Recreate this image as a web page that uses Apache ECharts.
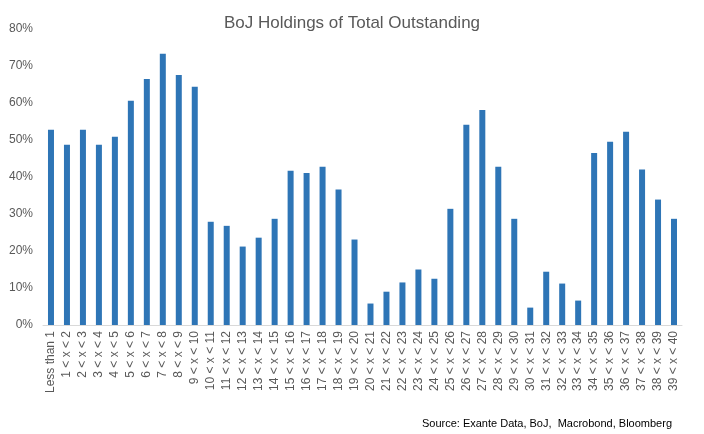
<!DOCTYPE html>
<html>
<head>
<meta charset="utf-8">
<script src="https://cdn.jsdelivr.net/npm/echarts@6/dist/echarts.min.js"></script>
<style>
  html, body { margin: 0; padding: 0; background: #fff; }
  #chart { width: 704px; height: 434px; }
</style>
</head>
<body>
<div id="chart"></div>
<script>
const categories = ['Less than 1']
for (let i = 1; i < 40; i++) {
  categories.push(i + ' < x < ' + (i + 1))
}

// share held by BoJ, in percent
const holdings = [
  52.8, 48.7, 52.8, 48.7, 50.9, 60.6, 66.5, 73.3, 67.6, 64.4,
  27.9, 26.8, 21.2, 23.6, 28.7, 41.7, 41.1, 42.8, 36.6, 23.1,
  5.8, 9.0, 11.5, 15.0, 12.5, 31.4, 54.1, 58.1, 42.8, 28.7,
  4.7, 14.4, 11.2, 6.6, 46.5, 49.5, 52.2, 42.0, 33.9, 28.7
]

const titleText = 'BoJ Holdings of Total Outstanding'
const sourceText = 'Source: Exante Data, BoJ,  Macrobond, Bloomberg'

const myChart = echarts.init(document.getElementById('chart'))
myChart.setOption({
  animation: false,
  textStyle: {
    fontFamily: 'Liberation Sans'
  },
  title: {
    text: titleText,
    left: 'center',
    top: 10,
    textStyle: {
      color: '#595959',
      fontSize: 17,
      fontWeight: 'normal'
    }
  },
  graphic: [{
    type: 'text',
    right: 32,
    bottom: 5,
    style: {
      text: sourceText,
      fill: '#000',
      fontSize: 11,
      fontFamily: 'Liberation Sans'
    }
  }],
  grid: {
    top: 29,
    left: 43,
    right: 22,
    bottom: 109,
    containLabel: false
  },
  xAxis: {
    type: 'category',
    data: categories,
    axisLine: {
      lineStyle: { color: '#d9d9d9', width: 1 }
    },
    axisTick: { show: false },
    axisLabel: {
      rotate: 90,
      interval: 0,
      margin: 6,
      color: '#595959',
      fontSize: 12
    }
  },
  yAxis: {
    type: 'value',
    min: 0,
    max: 80,
    interval: 10,
    splitLine: { show: false },
    axisLine: { show: false },
    axisTick: { show: false },
    axisLabel: {
      formatter: '{value}%',
      color: '#595959',
      fontSize: 12,
      margin: 10
    }
  },
  series: [{
    type: 'bar',
    data: holdings,
    barWidth: 6,
    itemStyle: { color: '#2e75b6' }
  }]
})
</script>
</body>
</html>
